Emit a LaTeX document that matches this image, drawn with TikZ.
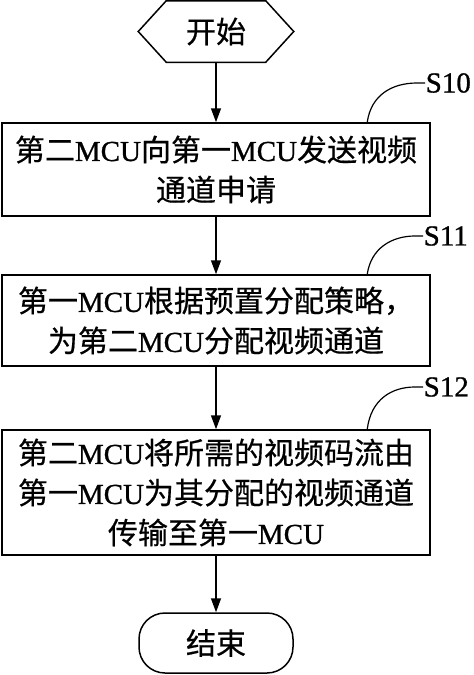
\documentclass[tikz,border=0pt]{standalone}
\usepackage{fontspec}
\setmainfont{Liberation Serif}
\newfontfamily\lat{Liberation Serif}[FakeBold=0.9]
\newfontfamily\cjk{Noto Sans CJK SC}[FakeBold=0.5]
\usetikzlibrary{arrows.meta,calc}
\newcommand\zh[1]{{\cjk\fontsize{30}{40}\selectfont #1}}
\begin{document}
\begin{tikzpicture}[x=1pt,y=-1pt,
  line width=1.5pt,
  txt/.style={font=\lat\fontsize{29}{40}\selectfont, align=center, inner sep=0pt},
  stepbox/.style={txt, draw, rectangle, minimum width=428pt},
  term/.style={txt, minimum width=154pt, minimum height=60pt},
  flow/.style={-{Triangle[length=14pt,width=10pt]}},
  lbl/.style={font=\lat\fontsize{29}{30}\selectfont, anchor=west, inner sep=0pt},
  lead/.style={line width=1.2pt}]
\useasboundingbox (0,0) rectangle (474,675);
% start hexagon
\node[term] (start) at (216,31.5) {\zh{开始}};
\draw (start.west) -- ([xshift=28pt]start.north west) -- ([xshift=-28pt]start.north east)
  -- (start.east) -- ([xshift=-28pt]start.south east) -- ([xshift=28pt]start.south west) -- cycle;
% boxes
\node[stepbox, minimum height=93pt] (b1) at (216,169.5)
  {\zh{第二}MCU\zh{向第一}MCU\zh{发送视频}\\\zh{通道申请}};
\node[stepbox, minimum height=91pt] (b2) at (216,320.5)
  {\zh{第一}MCU\zh{根据预置分配策略，}\\\zh{为第二}MCU\zh{分配视频通道}};
\node[stepbox, minimum height=125pt] (b3) at (216,492.5)
  {\zh{第二}MCU\zh{将所需的视频码流由}\\\zh{第一}MCU\zh{为其分配的视频通道}\\\zh{传输至第一}MCU};
% end
\node[term, draw, rounded corners=26pt] (end) at (216,643) {\zh{结束}};
% arrows
\draw[flow] (start) -- (b1);
\draw[flow] (b1) -- (b2);
\draw[flow] (b2) -- (b3);
\draw[flow] (b3) -- (end);
% step labels
\node[lbl] (s10) at (425,83) {S10};
\node[lbl] (s11) at (423,236) {S11};
\node[lbl] (s12) at (423,387) {S12};
\coordinate (p10) at ($(b1.north west)+(366,0)$);
\coordinate (p11) at ($(b2.north west)+(366,0)$);
\coordinate (p12) at ($(b3.north west)+(366,0)$);
\draw[lead] (p10) .. controls (371,95) and (392,83) .. (417,83) -- (s10.west);
\draw[lead] (p11) .. controls (371,248) and (392,236) .. (415,236) -- (s11.west);
\draw[lead] (p12) .. controls (371,399) and (392,387) .. (415,387) -- (s12.west);
\end{tikzpicture}
\end{document}
